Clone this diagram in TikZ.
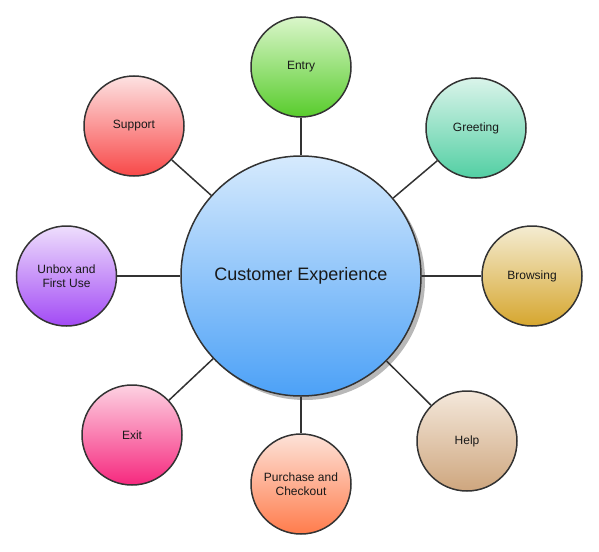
\documentclass[tikz,border=0pt]{standalone}
\usepackage{fontspec}
\setmainfont{Liberation Sans}
\usetikzlibrary{shadows}
\definecolor{edgecol}{HTML}{333333}
\definecolor{cTop}{HTML}{D6EAFD}
\definecolor{cBot}{HTML}{4CA1F7}
\tikzset{
  x=1pt, y=-1pt,
  bubble/.style={circle, draw=edgecol, line width=1.5pt, minimum size=100pt, inner sep=0pt,
    align=center, font=\fontsize{12}{13.5}\selectfont, text=black!90},
  hub/.style={circle, draw=edgecol, line width=1.5pt, minimum size=240pt, inner sep=0pt,
    font=\fontsize{18}{21}\selectfont, text=black!90,
    top color=cTop, bottom color=cBot,
    drop shadow={shadow xshift=4pt, shadow yshift=-4pt, fill=black!35, opacity=0.8}},
  link/.style={draw=edgecol, line width=1.5pt}
}
\begin{document}
\begin{tikzpicture}
\useasboundingbox (0,0) rectangle (599,551);
\node[hub] (c) at (301,276) {Customer Experience};
\node[bubble, top color={rgb,255:red,218;green,246;blue,202}, bottom color={rgb,255:red,88;green,204;blue,44}] (entry) at (301,67) {Entry};
\node[bubble, top color={rgb,255:red,218;green,244;blue,234}, bottom color={rgb,255:red,82;green,207;blue,163}] (greet) at (476,128) {Greeting};
\node[bubble, top color={rgb,255:red,244;green,236;blue,210}, bottom color={rgb,255:red,214;green,166;blue,46}] (browse) at (532,276) {Browsing};
\node[bubble, top color={rgb,255:red,244;green,232;blue,219}, bottom color={rgb,255:red,206;green,166;blue,126}] (help) at (467,441) {Help};
\node[bubble, top color={rgb,255:red,253;green,226;blue,216}, bottom color={rgb,255:red,255;green,124;blue,76}] (buy) at (301,484) {Purchase and\\Checkout};
\node[bubble, top color={rgb,255:red,253;green,210;blue,226}, bottom color={rgb,255:red,246;green,40;blue,126}] (exit) at (132,435) {Exit};
\node[bubble, top color={rgb,255:red,238;green,222;blue,252}, bottom color={rgb,255:red,162;green,74;blue,245}] (unbox) at (66.5,276) {Unbox and\\First Use};
\node[bubble, top color={rgb,255:red,253;green,226;blue,226}, bottom color={rgb,255:red,248;green,72;blue,72}] (support) at (134,126) {Support};
\foreach \s in {entry,greet,browse,help,buy,exit,unbox,support}{
  \draw[link] (c) -- (\s);
}
\end{tikzpicture}
\end{document}
